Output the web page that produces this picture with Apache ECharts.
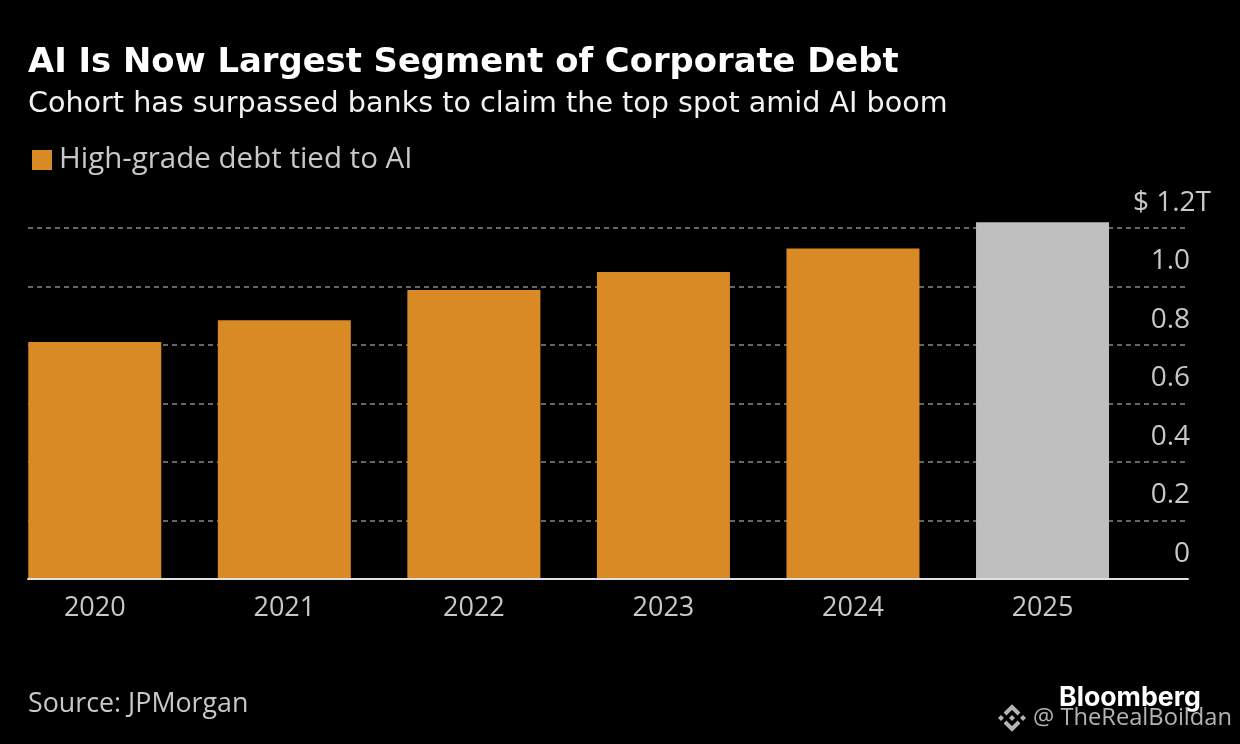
<!DOCTYPE html>
<html><head><meta charset="utf-8">
<style>html,body{margin:0;padding:0;background:#000}#c{width:1240px;height:744px}</style>
<script src="https://cdn.jsdelivr.net/npm/echarts@6/dist/echarts.min.js"></script>
</head><body><div id="c"></div>
<script>
const categories = ['2020','2021','2022','2023','2024','2025'];
const debtValues = [0.81,0.885,0.988,1.05,1.13,1.22];
const yTickLabels = {0:'0',0.2:'0.2',0.4:'0.4',0.6:'0.6',0.8:'0.8',1:'1.0'};
const yTopLabel = '$ 1.2T';
const seriesName = 'High-grade debt tied to AI';
const titleText = 'AI Is Now Largest Segment of Corporate Debt';
const subtitleText = 'Cohort has surpassed banks to claim the top spot amid AI boom';
const sourceText = 'Source: JPMorgan';
const ORANGE='#da8a25', GREY='#bfbfbf', WM='#b4b4b4';
const FONT='"Open Sans"';
const chart = echarts.init(document.getElementById('c'),null,{renderer:'canvas'});
chart.setOption({
  backgroundColor:'#000',
  animation:false,
  textStyle:{fontFamily:FONT},
  title:[
    {text:titleText,left:28,top:46,padding:0,textStyle:{color:'#fff',fontSize:33.8,fontWeight:'bold',fontFamily:'"DejaVu Sans"'}},
    {text:subtitleText,left:28,top:90,padding:0,textStyle:{color:'#f2f2f2',fontSize:28.6,fontWeight:'normal',fontFamily:'"DejaVu Sans"'}},
    {text:sourceText,left:28,top:691,padding:0,textStyle:{color:'#c8c8c8',fontSize:26.8,fontWeight:'normal',fontFamily:FONT}},
    {text:'Bloomberg',left:1059,top:684,padding:0,textStyle:{color:'#fff',fontSize:26.7,fontWeight:'bold',fontFamily:'Inter'}},
    {text:'@ TheRealBoildan',left:1033,top:706,padding:0,textStyle:{color:WM,fontSize:23.7,fontWeight:'normal',fontFamily:FONT}}
  ],
  legend:{show:true,left:32,top:145,padding:0,itemWidth:20,itemHeight:20,itemGap:8,icon:'rect',
    data:[seriesName],textStyle:{color:'#c8c8c8',fontSize:29.5,fontFamily:FONT,padding:[0,0,0,2]}},
  grid:[
    {left:28,top:228,width:1160,height:351,containLabel:false},
    {left:-0.3,top:198.75,width:1137.6,height:380.25,containLabel:false}
  ],
  xAxis:[
    {type:'value',gridIndex:0,min:0,max:1,axisLine:{show:true,onZero:false,lineStyle:{color:'#e0e0e0',width:2}},
      axisTick:{show:false},axisLabel:{show:false},splitLine:{show:false},z:5},
    {type:'category',gridIndex:1,data:categories,axisLine:{show:false},axisTick:{show:false},
      axisLabel:{color:'#c8c8c8',fontSize:27,margin:16,fontFamily:FONT}}
  ],
  yAxis:[
    {type:'value',gridIndex:0,min:0,max:1.2,interval:0.2,position:'right',axisLine:{show:false},axisTick:{show:false},
      splitLine:{show:true,lineStyle:{color:'#666666',width:2,type:[5,4]}},
      axisLabel:{inside:true,margin:-2,verticalAlign:'bottom',padding:[0,0,11,0],color:'#c8c8c8',fontSize:28,fontFamily:FONT,
        showMaxLabel:false,formatter:v=>yTickLabels[Math.round(v*10)/10]||''}},
    {type:'value',gridIndex:1,min:0,max:1.3,interval:0.1,show:false},
    {type:'value',gridIndex:0,min:0,max:1.2,interval:0.2,position:'right',axisLine:{show:false},axisTick:{show:false},splitLine:{show:false},
      axisLabel:{inside:true,margin:-23,verticalAlign:'bottom',padding:[0,0,11,0],color:'#c8c8c8',fontSize:28,fontFamily:FONT,
        formatter:v=>Math.round(v*10)===12?yTopLabel:''}}
  ],
  series:[{
    name:seriesName,type:'bar',xAxisIndex:1,yAxisIndex:1,barWidth:133,
    itemStyle:{color:ORANGE},z:3,
    data:debtValues.map((v,i)=>categories[i]==='2025'?{value:v,itemStyle:{color:GREY}}:v)
  }],
  graphic:[
    {type:'group',x:998,y:704,silent:true,children:[
      {type:'polyline',shape:{points:[[7,10],[14,3],[21,10]]},style:{stroke:WM,lineWidth:4,fill:null}},
      {type:'polyline',shape:{points:[[7,18],[14,25],[21,18]]},style:{stroke:WM,lineWidth:4,fill:null}},
      {type:'polygon',shape:{points:[[0,14],[3,11],[6,14],[3,17]]},style:{fill:WM}},
      {type:'polygon',shape:{points:[[22,14],[25,11],[28,14],[25,17]]},style:{fill:WM}},
      {type:'polygon',shape:{points:[[11,14],[14,11],[17,14],[14,17]]},style:{fill:WM}}
    ]}
  ]
});
</script></body></html>
